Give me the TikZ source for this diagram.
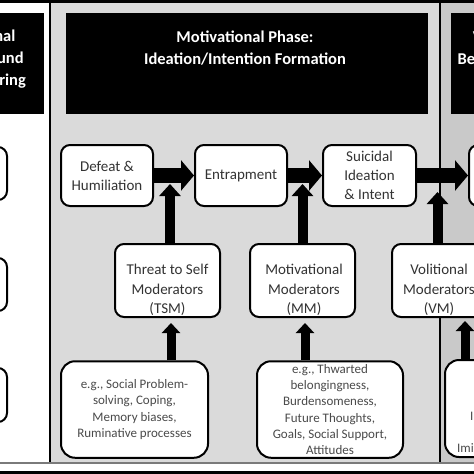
\documentclass[tikz,border=0pt]{standalone}
\usepackage{fontspec}
\setmainfont{Carlito}
\usetikzlibrary{arrows.meta}
\definecolor{midgrey}{HTML}{DADADA}
\definecolor{rightgrey}{HTML}{C9C9C9}
\definecolor{txt}{HTML}{333333}
\definecolor{egtxt}{HTML}{4A4A4A}
\definecolor{edgegrey}{HTML}{7A7A7A}
\tikzset{
  box/.style={draw=black, line width=2pt, fill=white, rounded corners=9pt, inner sep=0pt},
  egbox/.style={box, rounded corners=14pt, text=egtxt, font=\fontsize{13}{16.3}\selectfont, align=center},
  topbox/.style={box, minimum width=92, minimum height=61, text=txt, font=\fontsize{15}{19}\selectfont, align=center},
  modbox/.style={box, minimum width=105, minimum height=73},
  modtext/.style={text=txt, font=\fontsize{15}{19.5}\selectfont, align=center, inner sep=0pt},
  hdrbox/.style={fill=black, draw=none, minimum height=101, inner sep=0pt},
  hdr/.style={text=white, font=\fontsize{16.5}{22}\selectfont\bfseries, align=center, inner sep=0pt},
  egline/.style={text=egtxt, font=\fontsize{13}{16.3}\selectfont, inner sep=0pt, anchor=west},
  harrow/.style={line width=15pt, -{Triangle[width=30pt,length=13pt]}},
  varrow/.style={line width=10pt, -{Triangle[width=21pt,length=12pt]}},
  sarrow/.style={line width=9pt, -{Triangle[width=18pt,length=10pt]}},
  divider/.style={line width=2pt, draw=black}
}
\begin{document}
\begin{tikzpicture}[x=1pt,y=-1pt]
\useasboundingbox (0,0) rectangle (474,474);
\begin{scope}
\clip (0,0) rectangle (474,474);
% panels
\fill[white] (0,0) rectangle (474,474);
\fill[midgrey] (50,0) rectangle (439.5,463);
\fill[rightgrey] (439.5,0) rectangle (474,463);
\draw[divider] (50,0) -- (50,463);
\draw[divider] (439.5,0) -- (439.5,463);
\draw[line width=2pt, edgegrey] (0,463) -- (474,463);
\fill[black] (0,0) rectangle (474,2.5);
\fill[black] (0,471) rectangle (474,474);

% headers
\node[hdrbox, minimum width=174] (hleft) at (-43,63.5) {};
\node[hdr] (hleftt) at (-42,59) {Pre-motivational\\Phase: Background\\Factors \& Triggering};
\node[hdrbox, minimum width=362] (hmid) at (247,63.5) {};
\node[hdr] (hmidt) at (245,48) {Motivational Phase:\\Ideation/Intention Formation};
\node[hdrbox, minimum width=159] (hright) at (530.5,63.5) {};
\node[hdr] (hrightt) at (530,48) {Volitional Phase:\\Behavioural Enaction};

% left panel boxes
\node[box, minimum width=110, minimum height=53] (la) at (-48,173.5) {};
\node[box, minimum width=110, minimum height=53] (lb) at (-48,284.5) {};
\node[box, minimum width=110, minimum height=54] (lc) at (-48,395) {};

% top row
\node[topbox] (defeat) at (107,175.5) {Defeat \&\\Humiliation};
\node[topbox] (entrap) at (241,175.5) {Entrapment};
\node[topbox, minimum width=93] (ideation) at (369.5,175.5) {Suicidal\\Ideation\\\& Intent};
\node[topbox] (behav) at (515,175.5) {};

% moderators
\node[modbox] (tsm) at (167.5,280.5) {};
\node[modtext] (tsmt) at (167.5,290) {Threat to Self\\Moderators\\(TSM)};
\node[modbox] (mm) at (302.5,280.5) {};
\node[modtext] (mmt) at (304,290) {Motivational\\Moderators\\(MM)};
\node[modbox, minimum width=94] (vm) at (439,280.5) {};
\node[modtext] (vmt) at (439,290) {Volitional\\Moderators\\(VM)};

% example boxes
\node[egbox, minimum width=147, minimum height=96.5] (eg1) at (134.5,409.5)
  {e.g., Social Problem-\\solving, Coping,\\Memory biases,\\Ruminative processes};
\node[egbox, minimum width=146, minimum height=96.5] (eg2) at (330,409.5)
  {e.g., Thwarted\\belongingness,\\Burdensomeness,\\Future Thoughts,\\Goals, Social Support,\\Attitudes};
\node[egbox, minimum width=150, minimum height=97] (eg3) at (520,408.5) {};
\node[egline] (eg3a) at (470,417) {Impulsivity,};
\node[egline] (eg3b) at (457,448) {Imitation};

% horizontal arrows
\draw[harrow] (defeat.east) -- (entrap.west);
\draw[harrow] (entrap.east) -- (ideation.west);
\draw[harrow] (ideation.east) -- (ideation.east -| behav.west);

% upward arrows into the pathway
\coordinate (up1) at (170,184);
\coordinate (up2) at (302.5,184);
\coordinate (up3) at (437.5,192);
\draw[varrow] (tsm.north -| up1) -- (up1);
\draw[varrow] (mm.north -| up2) -- (up2);
\draw[varrow] (vm.north -| up3) -- (up3);

% arrows from example boxes
\coordinate (lo1) at (171,323);
\coordinate (lo2) at (305,323);
\coordinate (lo3) at (465,321);
\draw[sarrow] (eg1.north -| lo1) -- (lo1);
\draw[sarrow] (eg2.north -| lo2) -- (lo2);
\draw[sarrow] (eg3.north -| lo3) -- (lo3);
\end{scope}
\end{tikzpicture}
\end{document}
